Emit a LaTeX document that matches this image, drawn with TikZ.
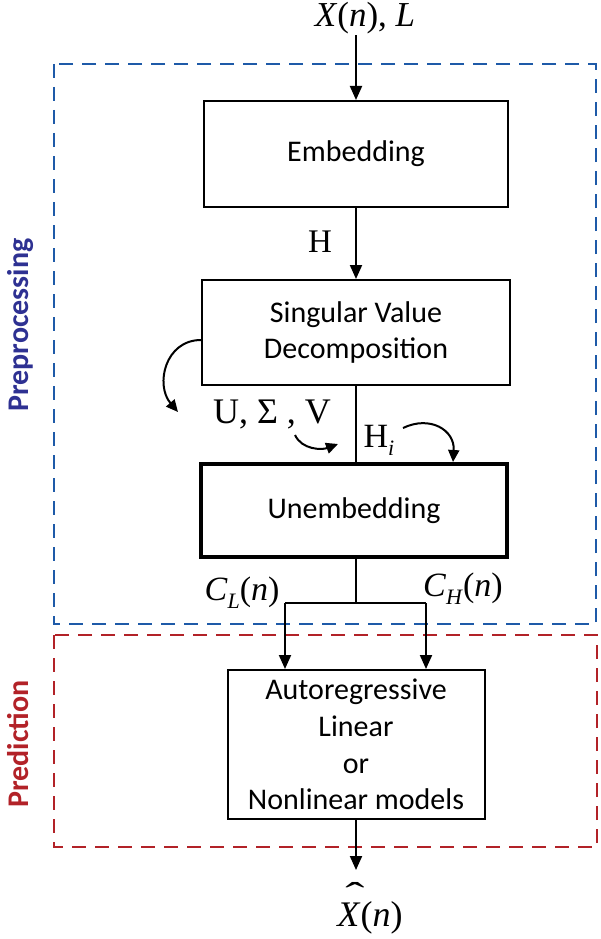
\documentclass[tikz,border=0pt]{standalone}
\usepackage{fontspec}
\setmainfont{Carlito}
\newfontfamily\tms{Liberation Serif}
\usetikzlibrary{arrows.meta}
\definecolor{preblue}{RGB}{30,90,168}
\definecolor{pretext}{RGB}{46,49,146}
\definecolor{predred}{RGB}{178,34,40}
\newcommand{\fsz}[1]{\fontsize{#1}{#1}\selectfont}
\newcommand{\lowsub}[1]{\raisebox{-0.25em}{\fsz{22}\textit{#1}}}
\tikzset{
  >={Triangle[length=14pt,width=12pt]},
  block/.style={draw, line width=2pt, align=center, inner sep=0pt, font=\fontsize{30}{36.6}\selectfont},
  lbl/.style={inner sep=0pt, anchor=base},
  group/.style={dash pattern=on 14pt off 9pt, line width=2.4pt},
  side/.style={rotate=90, inner sep=0pt, font=\bfseries\fsz{30}}
}

\begin{document}
\begin{tikzpicture}[x=1pt, y=-1pt, line width=2pt]
                \useasboundingbox (0,0) rectangle (600,939);
                % draw the two dashed groups
                \draw[group, preblue] (54,64) rectangle (596,624);
                \draw[group, predred] (54,635) rectangle (597,847);
                \node[side, text=pretext] (prelbl) at (21,325) {Preprocessing};
                \node[side, text=predred] (predlbl) at (18,744) {Prediction};

                % draw the blocks
                \node[block, minimum width=304pt, minimum height=106pt] (emb) at (356,154) {Embedding};
                \node[block, minimum width=308pt, minimum height=105pt] (svd) at (356,332.5) {Singular Value\\Decomposition};
                \node[block, line width=4pt, minimum width=306pt, minimum height=93pt] (unemb) at (354,510.5) {Unembedding};
                \node[block, minimum width=257pt, minimum height=149pt] (model) at (356,744.5) {Autoregressive\\Linear\\or\\Nonlinear models};

                % labels
                \node[lbl, font=\tms\fsz{35}] (in) at (365,27) {\textit{X}(\textit{n}), \textit{L}};
                \node[lbl, font=\tms\fsz{33}] (h) at (320,252) {H};
                \node[lbl, font=\tms\fsz{36}] (usv) at (272,423) {U, Σ , V};
                \node[lbl, font=\tms\fsz{34}] (hi) at (379,447) {H\lowsub{i}};
                \node[lbl, font=\tms\fsz{34}] (cl) at (242,600) {\textit{C}\lowsub{L}(\textit{n})};
                \node[lbl, font=\tms\fsz{34}] (ch) at (463,596) {\textit{C}\lowsub{H}(\textit{n})};
                \node[lbl, font=\tms\fsz{36}] (out) at (370,926) {\makebox[0pt][l]{\kern0.22em\raisebox{0.52em}{\scalebox{1.6}[1]{ˆ}}}\textit{X}(\textit{n})};

                % free ends of the connectors
                \coordinate (split) at (356,603);
                \coordinate (left) at (285,603);
                \coordinate (right) at (426,603);
                \coordinate (svdtip) at (178,412);
                \coordinate (usva) at (295,435);
                \coordinate (usvb) at (338,444);
                \coordinate (hia) at (403,428);
                \coordinate (hitip) at (453,462);
                \coordinate (outtip) at (356,870);

                % draw the connectors
                \draw[->] (emb.north |- in.south) -- (emb.north);
                \draw[->] (emb) -- (svd);
                \draw (svd.south) -- (svd.south |- unemb.north);
                \draw[->, >={Triangle[length=12pt,width=11pt]}] ([yshift=-7.5pt]svd.west) .. controls (165,340) and (155,385) .. (svdtip);
                \draw[->, >={Triangle[length=12pt,width=11pt]}] (usva) .. controls (302,450) and (322,450) .. (usvb);
                \draw[->, >={Triangle[length=12pt,width=11pt]}] (hia) .. controls (430,415) and (455,430) .. (hitip);
                \draw (unemb.south -| split) -- (split);
                \draw (left) -- (right);
                \draw[->] (left) -- (left |- model.north);
                \draw[->] (right) -- (right |- model.north);
                \draw[->] (model.south) -- (outtip);
            \end{tikzpicture}
\end{document}
